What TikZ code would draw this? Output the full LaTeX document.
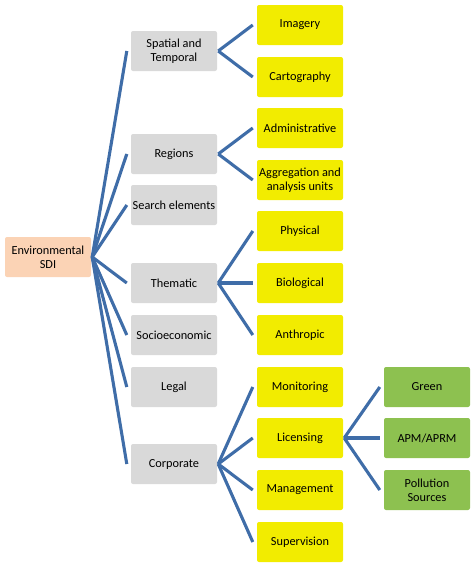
\documentclass[tikz,border=0pt]{standalone}
\usepackage{fontspec}
\setmainfont{Carlito}
\begin{document}
\begin{tikzpicture}[x=1pt,y=-1pt,
  box/.style={rectangle, rounded corners=2pt, minimum width=86pt, minimum height=40pt,
    inner sep=0pt, align=center, font=\fontsize{12.3}{14}\selectfont},
  rootbox/.style={box, fill=rootc},
  graybox/.style={box, fill=grayc},
  yelbox/.style={box, fill=yelc},
  grnbox/.style={box, fill=grnc},
  link/.style={draw=linkc, line width=3.1pt}]
\definecolor{rootc}{HTML}{FBD3B5}
\definecolor{grayc}{HTML}{D9D9D9}
\definecolor{yelc}{HTML}{F2EC00}
\definecolor{grnc}{HTML}{8DC150}
\definecolor{linkc}{HTML}{3F6DA8}
\useasboundingbox (0,0) rectangle (474,566);
% root
\node[rootbox] (root) at (48,257) {Environmental\\SDI};
% gray
\node[graybox] (st)   at (174,51)  {Spatial and\\Temporal};
\node[graybox] (reg)  at (174,154) {Regions};
\node[graybox] (se)   at (174,205) {Search elements};
\node[graybox] (them) at (174,283) {Thematic};
\node[graybox] (soc)  at (174,335) {Socioeconomic};
\node[graybox] (leg)  at (174,387) {Legal};
\node[graybox] (corp) at (174,464) {Corporate};
% yellow
\node[yelbox] (img)  at (300,25)  {Imagery};
\node[yelbox] (cart) at (300,77)  {Cartography};
\node[yelbox] (adm)  at (300,128) {Administrative};
\node[yelbox] (agg)  at (300,180) {Aggregation and\\analysis units};
\node[yelbox] (phys) at (300,231) {Physical};
\node[yelbox] (bio)  at (300,283) {Biological};
\node[yelbox] (anth) at (300,335) {Anthropic};
\node[yelbox] (mon)  at (300,387) {Monitoring};
\node[yelbox] (lic)  at (300,438) {Licensing};
\node[yelbox] (man)  at (300,490) {Management};
\node[yelbox] (sup)  at (300,542) {Supervision};
% green
\node[grnbox] (grn) at (427,387) {Green};
\node[grnbox] (apm) at (427,438) {APM/APRM};
\node[grnbox] (pol) at (427,490) {Pollution\\Sources};
% links root -> gray
\foreach \t in {st,reg,se,them,soc,leg,corp}
  \draw[link] ([xshift=1pt]root.east) -- ([xshift=-4pt]\t.west);
% gray -> yellow
\foreach \s/\t in {st/img,st/cart,reg/adm,reg/agg,them/phys,them/bio,them/anth,corp/mon,corp/lic,corp/man,corp/sup}
  \draw[link] ([xshift=1pt]\s.east) -- ([xshift=-4pt]\t.west);
% yellow -> green
\foreach \t in {grn,apm,pol}
  \draw[link] ([xshift=1pt]lic.east) -- ([xshift=-4pt]\t.west);
\end{tikzpicture}
\end{document}
